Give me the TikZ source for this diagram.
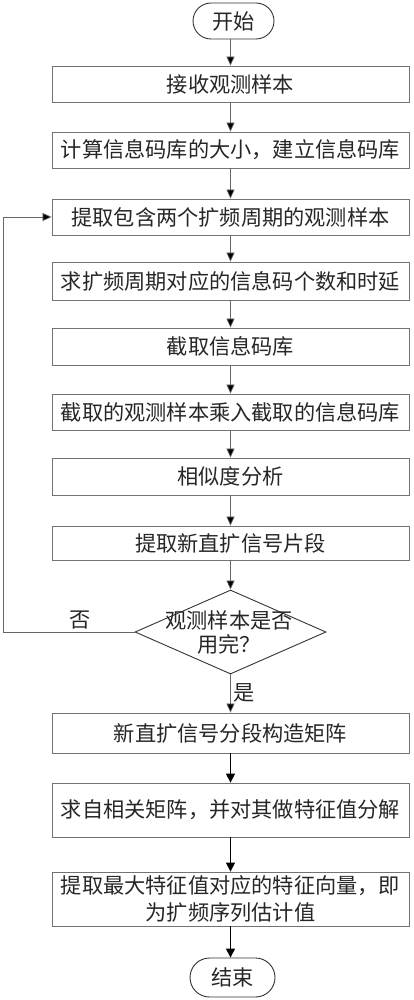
\documentclass[tikz,border=0pt]{standalone}
\usepackage{fontspec}
\newfontfamily\cjk{Noto Sans CJK SC}
\usetikzlibrary{shapes.geometric,shapes.misc,arrows.meta}
\begin{document}
\begin{tikzpicture}[x=1pt,y=1pt,
  every node/.style={font=\cjk\fontsize{21.2}{26}\selectfont, text=black!85},
  box/.style={draw=black!55, line width=0.8pt, minimum width=357pt, inner sep=0pt, align=center},
  term/.style={draw=black!80, line width=0.9pt, rounded rectangle, inner sep=0pt},
  dia/.style={draw=black!80, line width=0.9pt, diamond, minimum width=191pt, minimum height=84pt, inner sep=0pt},
  arr/.style={draw=black!60, line width=0.7pt, -{Triangle[length=9pt,width=8pt,fill=black]}},
  arrb/.style={draw=black, line width=1.4pt, -{Triangle[length=9pt,width=9pt,fill=black]}},
  lbl/.style={inner sep=0pt}]
\useasboundingbox (0,0) rectangle (414,-1000);
\node[term, minimum width=81pt, minimum height=36pt] (s) at (233.5,-21) {开始};
\node[box, minimum height=36pt] (b1) at (230.5,-84) {接收观测样本};
\node[box, minimum height=36pt] (b2) at (230.5,-150) {计算信息码库的大小，建立信息码库};
\node[box, minimum height=36pt] (b3) at (230.5,-217) {提取包含两个扩频周期的观测样本};
\node[box, minimum height=38pt] (b4) at (230.5,-281) {求扩频周期对应的信息码个数和时延};
\node[box, minimum height=37pt] (b5) at (230.5,-346.5) {截取信息码库};
\node[box, minimum height=36pt] (b6) at (230.5,-412) {截取的观测样本乘入截取的信息码库};
\node[box, minimum height=37pt] (b7) at (230.5,-476.5) {相似度分析};
\node[box, minimum height=34pt] (b8) at (230.5,-543) {提取新直扩信号片段};
\node[dia] (d) at (230.5,-632) {};
\node[lbl, align=center, font=\cjk\fontsize{21.2}{24}\selectfont] (dt) at (229,-632) {观测样本是否\\用完？};
\node[box, minimum height=40pt] (b9) at (230.5,-733) {新直扩信号分段构造矩阵};
\node[box, minimum height=54pt] (b10) at (230.5,-810) {求自相关矩阵，并对其做特征值分解};
\node[box, minimum height=54pt, font=\cjk\fontsize{21.2}{27}\selectfont] (b11) at (230.5,-899) {提取最大特征值对应的特征向量，即\\为扩频序列估计值};
\node[term, minimum width=85pt, minimum height=39pt] (e) at (232.5,-977.5) {结束};
\coordinate (c1) at (3,-632);
\coordinate (c2) at (3,-217);
\node[lbl] (no) at (80,-620) {否};
\node[lbl] (yes) at (244,-693) {是};
\draw[arr] (s.south -| b1.north) -- (b1.north);
\draw[arr] (b1) -- (b2);
\draw[arr] (b2) -- (b3);
\draw[arr] (b3) -- (b4);
\draw[arr] (b4) -- (b5);
\draw[arr] (b5) -- (b6);
\draw[arr] (b6) -- (b7);
\draw[arr] (b7) -- (b8);
\draw[arr] (b8.south) -- (d.north);
\draw[arr] (d.south) -- (b9.north);
\draw[arr] (d.west) -- (c1) -- (c2) -- (b3.west);
\draw[arrb] (b9) -- (b10);
\draw[arrb] (b10) -- (b11);
\draw[arrb] (b11.south) -- (b11.south |- e.north);
\end{tikzpicture}
\end{document}
